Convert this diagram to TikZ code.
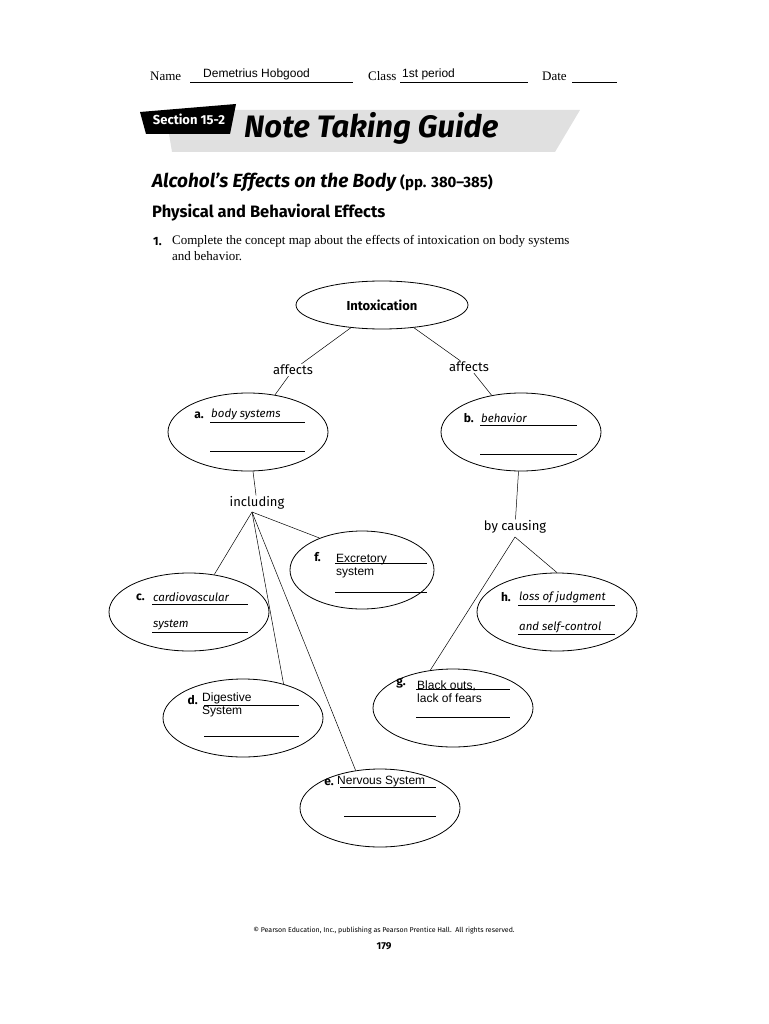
\documentclass[tikz,border=0pt]{standalone}
\usepackage{fontspec}
\usetikzlibrary{shapes.geometric}
\setmainfont{Liberation Serif}
\newfontfamily\hw{Liberation Sans}
\newfontfamily\fs{Fira Sans}
\begin{document}
\begin{tikzpicture}[x=1pt,y=-1pt,
  oval/.style={draw,thick,ellipse,minimum width=160pt,minimum height=78pt},
  lbl/.style={font=\fs\fontsize{13}{13}\selectfont,inner sep=1pt},
  let/.style={font=\fs\bfseries\fontsize{12}{12}\selectfont,anchor=east,inner sep=1pt},
  ans/.style={font=\hw\fontsize{12}{13}\selectfont,anchor=south west,inner sep=1pt,align=left},
  ansi/.style={font=\fs\itshape\fontsize{11.5}{12}\selectfont,anchor=south west,inner sep=1pt},
  uline/.style={line width=0.6pt},
  conn/.style={line width=0.5pt}]
\useasboundingbox (0,0) rectangle (768,1024);
% header
\node[anchor=base west,font=\fontsize{13}{13}\selectfont,inner sep=0] (nm) at (150,81) {Name};
\draw[uline] (190,82) -- (353,82);
\node[ans,anchor=base west] (nmv) at (202,78) {Demetrius Hobgood};
\node[anchor=base west,font=\fontsize{13}{13}\selectfont,inner sep=0] (cl) at (368,81) {Class};
\draw[uline] (400,82) -- (528,82);
\node[ans,anchor=base west] (clv) at (401,78) {1st period};
\node[anchor=base west,font=\fontsize{13}{13}\selectfont,inner sep=0] (dt) at (542,81) {Date};
\draw[uline] (572,82) -- (617,82);
% banner
\fill[black!12] (165,110) -- (580,110) -- (555,152) -- (172,152) -- cycle;
\fill[black] (140,112) -- (236,104) -- (230,134) -- (146,134) -- cycle;
\node[font=\fs\bfseries\fontsize{13}{13}\selectfont,text=white] (sec) at (189,119) {Section 15-2};
\node[anchor=west,font=\fs\bfseries\itshape\fontsize{31}{31}\selectfont,inner sep=0] (ttl) at (244,128) {Note Taking Guide};
\node[anchor=base west,inner sep=0,font=\fs\bfseries\itshape\fontsize{19}{19}\selectfont] (sub) at (152,188) {Alcohol’s Effects on the Body \fs\upshape\bfseries\fontsize{15}{15}\selectfont(pp. 380–385)};
\node[anchor=base west,inner sep=0,font=\fs\bfseries\fontsize{16.5}{16.5}\selectfont] (phy) at (152,218) {Physical and Behavioral Effects};
\node[anchor=base west,inner sep=0,font=\fs\bfseries\fontsize{12}{12}\selectfont] (one) at (153,245) {1.};
\node[anchor=north west,inner sep=0,align=left,font=\fontsize{13}{16}\selectfont] (q) at (172,235) {Complete the concept map about the effects of intoxication on body systems\\and behavior.};
% ovals
\node[draw,thick,ellipse,minimum width=172pt,minimum height=48pt,font=\fs\bfseries\fontsize{13}{13}\selectfont] (intox) at (382,305) {Intoxication};
\node[oval] (a) at (248,432) {};
\node[oval] (b) at (521,432) {};
\node[oval,minimum width=144pt] (f) at (362,570) {};
\node[oval] (c) at (189,612) {};
\node[oval] (h) at (557,612) {};
\node[oval] (d) at (243,718) {};
\node[oval] (g) at (453,708) {};
\node[oval] (e) at (380,808) {};
% link labels
\node[lbl] (af1) at (293,370) {affects};
\node[lbl] (af2) at (469,367) {affects};
\node[lbl] (inc) at (257,503) {including};
\node[lbl] (bc) at (515,527) {by causing};
\draw[conn] (intox) -- (af1); \draw[conn] (af1) -- (a);
\draw[conn] (intox) -- (af2); \draw[conn] (af2) -- (b);
\draw[conn] (a) -- (inc); \draw[conn] (b) -- (bc);
\coordinate (ip) at (252,512);
\coordinate (bp) at (515,537);
\draw[conn] (ip) -- (c.56); \draw[conn] (ip) -- (f.143); \draw[conn] (ip) -- (d.40); \draw[conn] (ip) -- (e.123);
\draw[conn] (bp) -- (g.121); \draw[conn] (bp) -- (h.north);
% a
\node[let] (la) at (205,415) {a.};
\node[ansi] (ta) at (210,421) {body systems};
\draw[uline] (210,422) -- (305,422); \draw[uline] (210,451) -- (305,451);
% b
\node[let] (lb) at (475,418) {b.};
\node[ansi] (tb) at (480,424) {behavior};
\draw[uline] (480,425) -- (577,425); \draw[uline] (480,454) -- (577,454);
% f
\node[let] (lf) at (322,557) {f.};
\node[ans] (tf) at (335,579) {Excretory\\system};
\draw[uline] (335,563) -- (427,563); \draw[uline] (335,592) -- (427,592);
% c
\node[let] (lc) at (146,597) {c.};
\node[ansi] (tc) at (152,603) {cardiovascular};
\draw[uline] (152,604) -- (248,604);
\node[ansi] (tc2) at (152,631) {system};
\draw[uline] (152,632) -- (248,632);
% h
\node[let] (lh) at (512,597) {h.};
\node[ansi] (th) at (518,604) {loss of judgment};
\draw[uline] (518,605) -- (615,605);
\node[ansi] (th2) at (518,634) {and self-control};
\draw[uline] (518,634) -- (615,634);
% d
\node[let] (ld) at (199,700) {d.};
\node[ans] (td) at (201,718) {Digestive\\System};
\draw[uline] (204,705) -- (299,705); \draw[uline] (204,736) -- (299,736);
% g
\node[let] (lg) at (407,683) {g.};
\node[ans] (tg) at (416,704) {Black outs,\\lack of fears};
\draw[uline] (416,689) -- (510,689); \draw[uline] (416,717) -- (510,717);
% e
\node[let] (le) at (335,782) {e.};
\node[ans] (te) at (336,788) {Nervous System};
\draw[uline] (340,787) -- (436,787); \draw[uline] (344,816) -- (436,816);
% footer
\node[font=\fs\fontsize{7}{7}\selectfont] (cp) at (384,931) {© Pearson Education, Inc., publishing as Pearson Prentice Hall.\ \ All rights reserved.};
\node[font=\fs\bfseries\fontsize{10}{10}\selectfont] (pg) at (384,946) {179};
\end{tikzpicture}
\end{document}
